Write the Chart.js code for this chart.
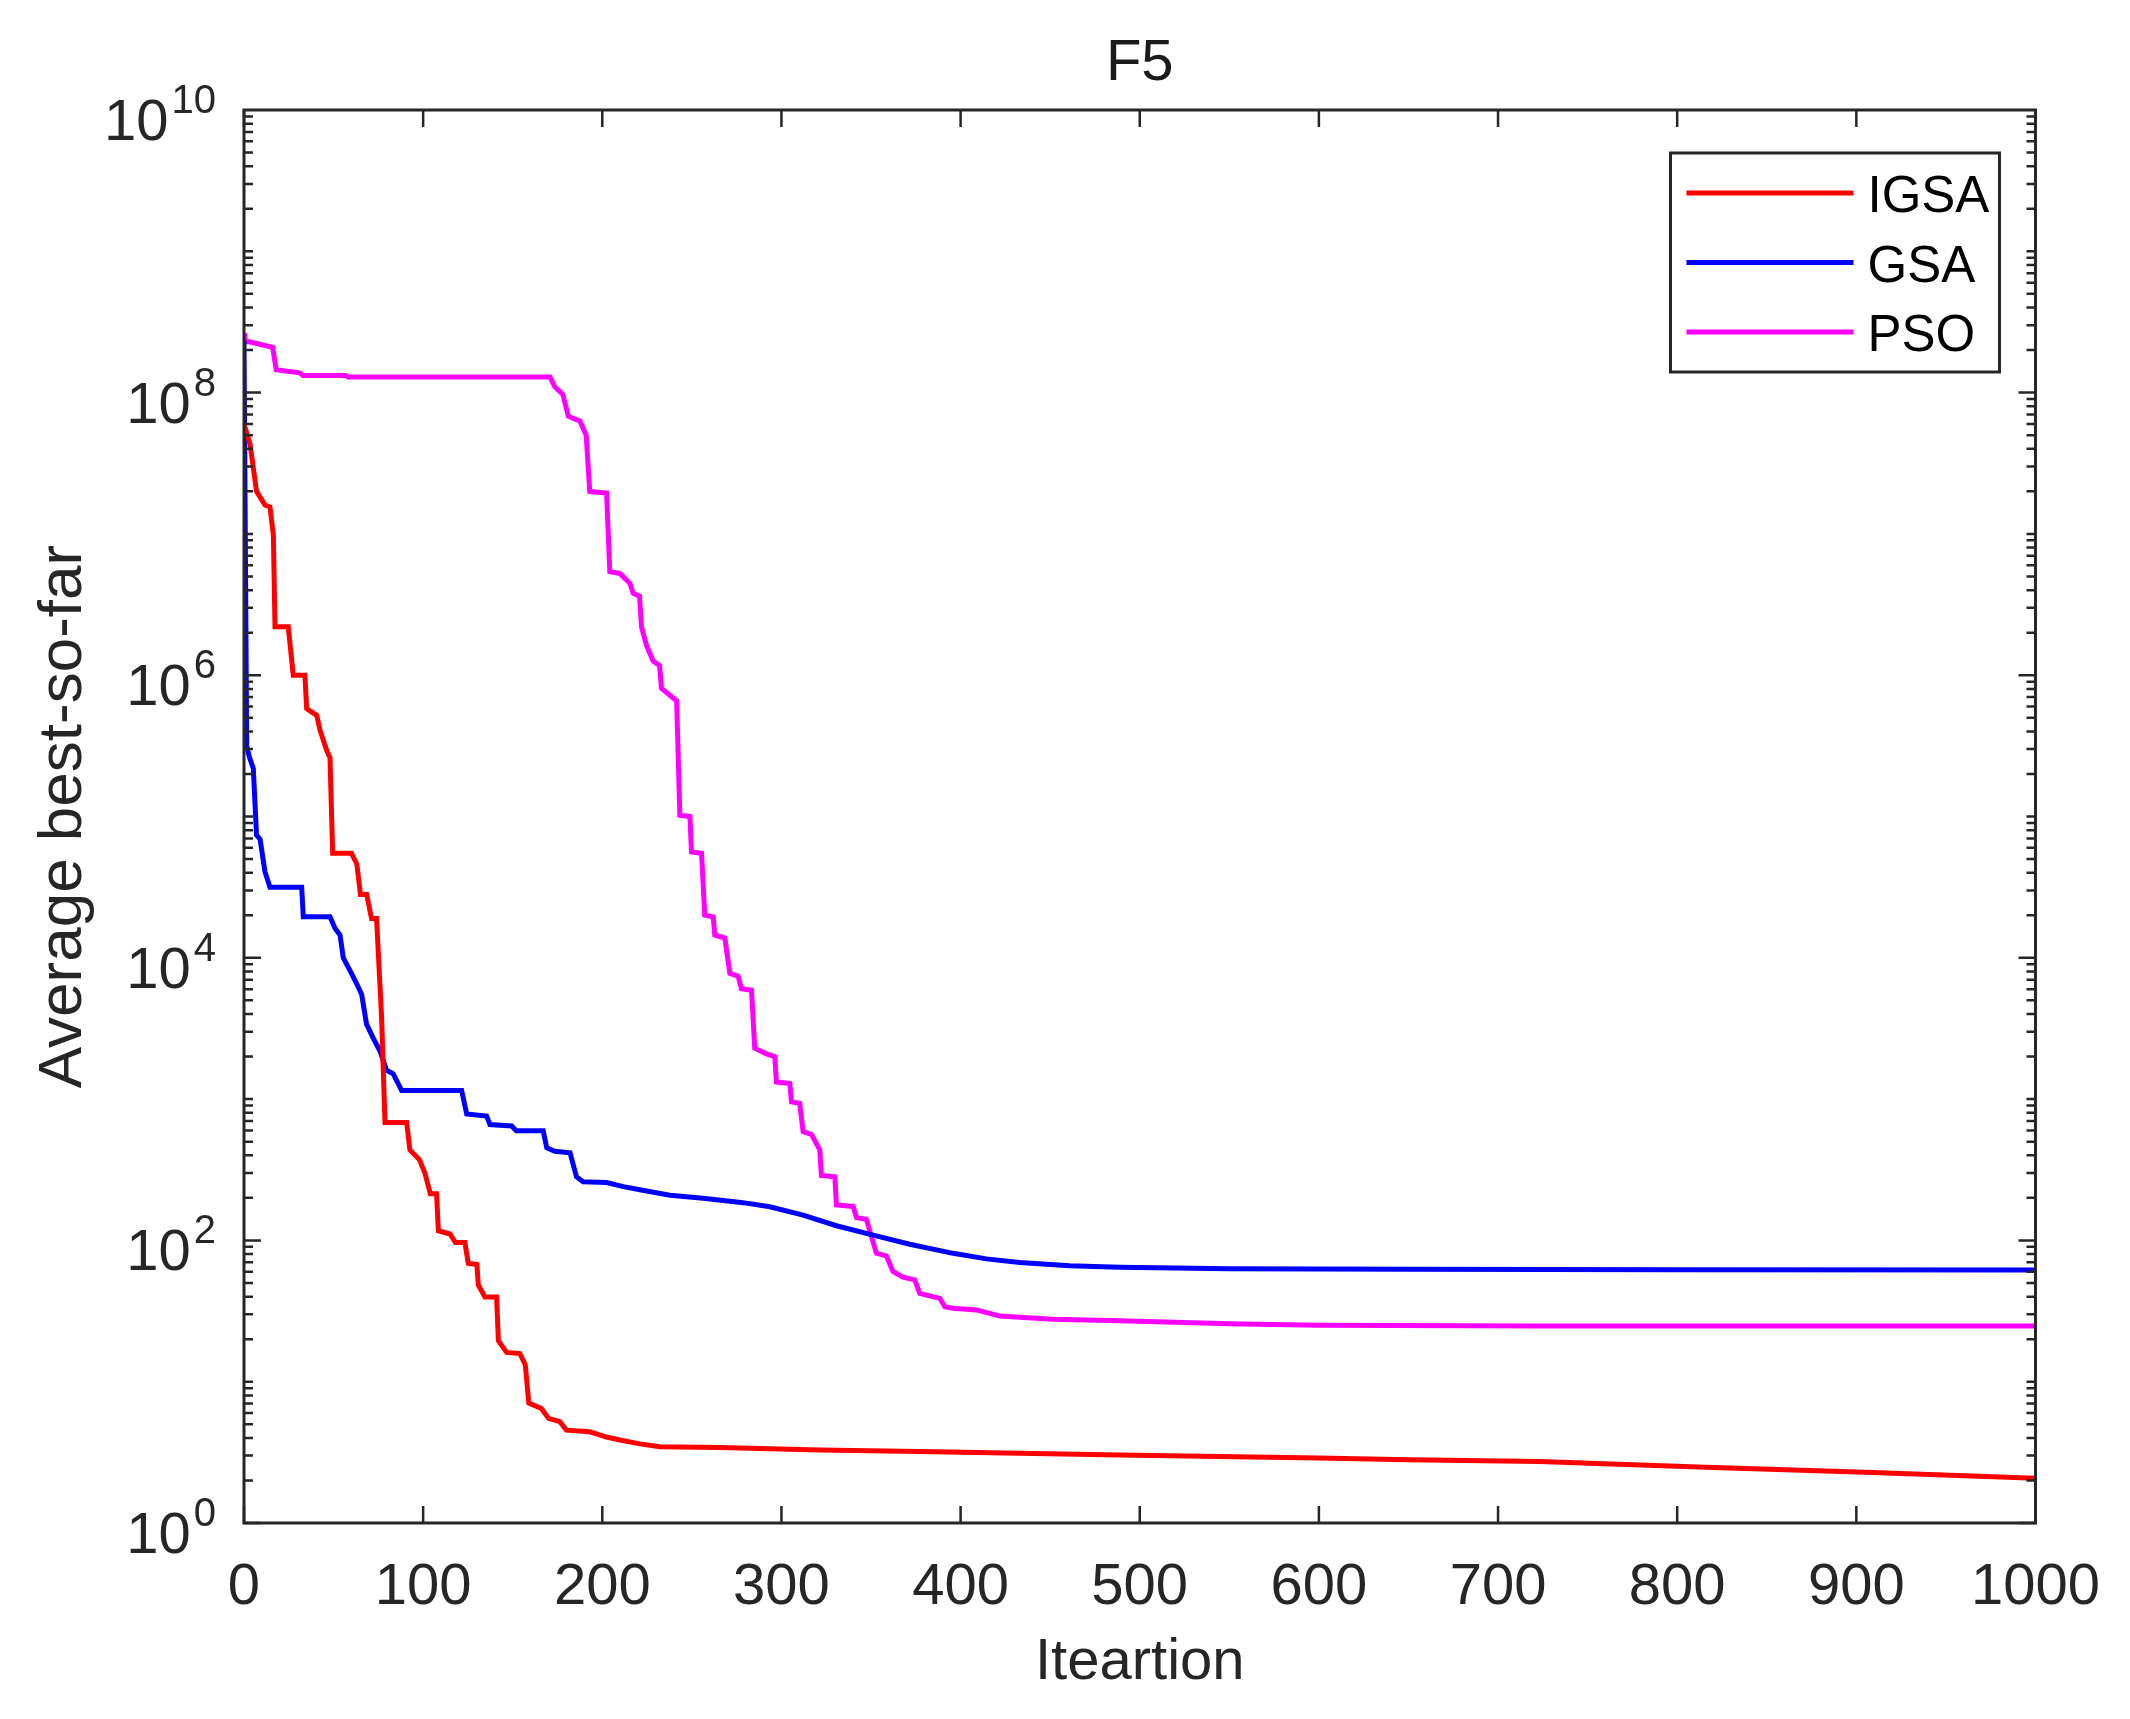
<!DOCTYPE html>
<html>
<head>
<meta charset="utf-8">
<script src="https://cdn.jsdelivr.net/npm/chart.js@4.4.1/dist/chart.umd.min.js"></script>
<style>
  html, body { margin: 0; padding: 0; background: #fff; }
  #wrap { width: 2130px; height: 1719px; }
</style>
</head>
<body>
<div id="wrap"><canvas id="f5-chart" width="2130" height="1719"></canvas></div>
<script>
// F5 convergence curves (iteration, average best-so-far)
const igsaIter = [0, 3.4, 7, 11.7, 14.5, 16.4, 17.3, 24.7, 27.5, 34, 35, 40.6, 42.4, 46.1, 48, 49.5, 60, 63, 65, 68.5,
  71.2, 74, 76.8, 78.7, 90.8, 92.6, 98, 101, 104, 107.5, 108.5, 115, 118, 123.3, 125.2, 130, 130.8, 134.5, 141, 142,
  146.6, 154, 157, 159, 166, 170, 176.3, 180, 193, 202.4, 209.8, 221, 232, 265.6, 321.4, 377.2, 433, 488.8, 600, 650,
  723, 816, 909, 1000];
const igsaVals = [6.0e7, 4.3e7, 2.0e7, 1.6e7, 1.55e7, 9.8e6, 2.2e6, 2.2e6, 1.0e6, 1.0e6, 5.8e5, 5.2e5, 4.1e5, 2.95e5, 2.6e5, 5.5e4, 5.5e4, 4.6e4, 2.8e4, 2.8e4,
  1.9e4, 1.9e4, 3800, 684, 684, 437, 372, 299, 214, 214, 117, 111, 96.6, 96.6, 69, 67.6, 48.4, 39.8, 39.8, 19.5,
  16.1, 15.8, 13.2, 7.05, 6.46, 5.5, 5.21, 4.54, 4.42, 4.06, 3.87, 3.63, 3.47, 3.42, 3.29, 3.2, 3.11, 3.03, 2.88, 2.8,
  2.72, 2.48, 2.28, 2.07];

const gsaIter = [0, 1.5, 3, 5.2, 7, 9, 11.7, 14.5, 32.2, 33.1, 48, 50.8, 53.6, 55.4, 60, 62.9, 65.7, 68.4, 72.2, 75.9,
  79.6, 83.3, 88, 121.5, 124.3, 135.4, 137.3, 149.4, 152, 167, 169, 173.5, 182, 185.6, 189.3, 202.4, 211.7, 221, 237.7, 256.3,
  278.6, 293.5, 312.1, 330.7, 351.2, 371.6, 395.8, 414.4, 433, 460.9, 488.8, 550, 650, 800, 1000];
const gsaVals = [2.34e8, 3.16e5, 2.63e5, 2.19e5, 7.4e4, 6.9e4, 4.07e4, 3.16e4, 3.16e4, 1.95e4, 1.95e4, 1.62e4, 1.45e4, 1.0e4, 7760, 6550, 5500, 3390, 2690, 2190,
  1600, 1510, 1150, 1150, 785, 759, 661, 646, 596, 596, 452, 427, 417, 282, 260, 257, 240, 228, 209, 199,
  185, 173, 151, 127, 109, 94, 81, 74, 69.7, 66.2, 64.6, 63.1, 62.4, 61.9, 61.8];

const psoIter = [0, 0.5, 3, 16, 18, 31, 33, 57, 58, 170.8, 173.5, 178, 181, 187.5, 191, 193, 202.4, 204.2, 209.8, 215.4,
  217.2, 220.8, 221.9, 224.7, 228.4, 232, 233, 239.6, 241.5, 243.3, 248.9, 249.8, 255.4, 257.2, 261.9, 262.8, 268.4, 271.2, 275.8, 277.7,
  283.3, 285.1, 291.6, 296.3, 297.2, 304.7, 305.6, 310.2, 312.1, 316.8, 321.4, 322.3, 329.8, 330.7, 340, 341.9, 347.4, 353, 358.6, 362.3,
  367.9, 374.4, 377.2, 388.4, 391.2, 395.8, 408.8, 421.8, 433, 451.6, 488.8, 550, 600, 723, 1000];
const psoVals = [2.63e8, 2.29e8, 2.29e8, 2.09e8, 1.45e8, 1.38e8, 1.32e8, 1.32e8, 1.29e8, 1.29e8, 1.10e8, 9.7e7, 6.8e7, 6.3e7, 5.0e7, 2.0e7, 1.95e7, 5.4e6, 5.25e6, 4.47e6,
  3.8e6, 3.63e6, 2.19e6, 1.62e6, 1.26e6, 1.17e6, 8.1e5, 6.9e5, 6.6e5, 1.02e5, 1.0e5, 5.6e4, 5.5e4, 2.0e4, 1.95e4, 1.45e4, 1.38e4, 7760, 7410, 6030,
  5890, 2290, 2090, 2000, 1320, 1290, 955, 933, 589, 562, 437, 288, 282, 178, 174, 145, 141, 81.3, 77.6, 60.3,
  55, 52.5, 42.2, 38.9, 33.9, 33.1, 32.2, 29.2, 28.6, 27.7, 27.0, 25.7, 25.1, 24.8, 24.8];

const seriesNames = ["IGSA", "GSA", "PSO"];
const chartTitle = "F5";
const xTickValues = [0, 100, 200, 300, 400, 500, 600, 700, 800, 900, 1000];
const yLabelExponents = [0, 2, 4, 6, 8, 10];

const FONT = '"Liberation Sans", Arial, Helvetica, sans-serif';
const axisColor = "#262626";

const toPoints = (xs, ys) => xs.map((x, i) => ({ x: x, y: ys[i] }));

// matlab-like box with inward ticks, superscript y labels, title over the axes and boxed legend
const matlabAxes = {
  id: "matlabAxes",
  afterDatasetsDraw(chart) {
    const { ctx, chartArea: a, scales: { x, y } } = chart;
    ctx.save();
    ctx.strokeStyle = axisColor;
    ctx.lineWidth = 2.5;
    ctx.beginPath();
    xTickValues.forEach(v => {
      const px = x.getPixelForValue(v);
      ctx.moveTo(px, a.bottom); ctx.lineTo(px, a.bottom - 17);
      ctx.moveTo(px, a.top); ctx.lineTo(px, a.top + 17);
    });
    for (let e = 0; e < 10; e++) {
      for (let m = 1; m < 10; m++) {
        const py = y.getPixelForValue(m * Math.pow(10, e));
        const len = (m === 1 && e % 2 === 0) ? 17 : 9;
        ctx.moveTo(a.left, py); ctx.lineTo(a.left + len, py);
        ctx.moveTo(a.right, py); ctx.lineTo(a.right - len, py);
      }
    }
    ctx.stroke();
    ctx.lineWidth = 3;
    ctx.strokeRect(a.left, a.top, a.right - a.left, a.bottom - a.top);

    // y tick labels 10^n
    ctx.fillStyle = axisColor;
    ctx.textBaseline = "alphabetic";
    ctx.textAlign = "right";
    yLabelExponents.forEach(e => {
      const py = y.getPixelForValue(Math.pow(10, e));
      const rightX = a.left - 28;
      ctx.font = "40px " + FONT;
      const sup = String(e);
      const supW = ctx.measureText(sup).width;
      ctx.fillText(sup, rightX, py + 3);
      ctx.font = "58px " + FONT;
      ctx.fillText("10", rightX - supW - 3, py + 30);
    });

    // title centred over the axes
    ctx.font = "58px " + FONT;
    ctx.fillStyle = "#1a1a1a";
    ctx.textAlign = "center";
    ctx.textBaseline = "middle";
    ctx.fillText(chartTitle, (a.left + a.right) / 2, 64);

    // legend
    const lw = 329, lh = 219;
    const lx = a.right - 36 - lw, ly = a.top + 43;
    ctx.fillStyle = "#fff";
    ctx.fillRect(lx, ly, lw, lh);
    ctx.lineWidth = 3;
    ctx.strokeStyle = axisColor;
    ctx.strokeRect(lx, ly, lw, lh);
    ctx.font = "51px " + FONT;
    ctx.textAlign = "left";
    ctx.textBaseline = "alphabetic";
    chart.data.datasets.forEach((ds, i) => {
      const rowY = ly + 40 + i * 69.5;
      ctx.strokeStyle = ds.borderColor;
      ctx.lineWidth = ds.borderWidth;
      ctx.beginPath();
      ctx.moveTo(lx + 16, rowY); ctx.lineTo(lx + 183, rowY);
      ctx.stroke();
      ctx.fillStyle = "#000";
      ctx.fillText(ds.label, lx + 197, rowY + 19);
    });
    ctx.restore();
  }
};

new Chart(document.getElementById("f5-chart").getContext("2d"), {
  type: "line",
  data: {
    datasets: [
      { label: seriesNames[0], data: toPoints(igsaIter, igsaVals), borderColor: "#ff0000", borderWidth: 5 },
      { label: seriesNames[1], data: toPoints(gsaIter, gsaVals), borderColor: "#0000ff", borderWidth: 5 },
      { label: seriesNames[2], data: toPoints(psoIter, psoVals), borderColor: "#ff00ff", borderWidth: 5 }
    ]
  },
  options: {
    responsive: false,
    animation: false,
    devicePixelRatio: 1,
    layout: { padding: { left: 0, right: 93, top: 110, bottom: 21 } },
    elements: { point: { radius: 0 }, line: { tension: 0, fill: false } },
    plugins: {
      legend: { display: false },
      tooltip: { enabled: false },
      title: { display: false }
    },
    scales: {
      x: {
        type: "linear",
        min: 0,
        max: 1000,
        grid: { display: false, drawTicks: false },
        border: { display: false },
        ticks: {
          stepSize: 100,
          autoSkip: false,
          maxRotation: 0,
          padding: 30,
          color: axisColor,
          font: { family: FONT, size: 58 },
          callback: v => String(v)
        },
        title: {
          display: true,
          text: "Iteartion",
          color: axisColor,
          font: { family: FONT, size: 58, lineHeight: 1.2 },
          padding: { top: 0, bottom: 0 }
        },
        afterFit(scale) { scale.height = 175; }
      },
      y: {
        type: "logarithmic",
        min: 1,
        max: 1e10,
        grid: { display: false, drawTicks: false },
        border: { display: false },
        ticks: { display: false },
        title: {
          display: true,
          text: "Average best-so-far",
          color: axisColor,
          font: { family: FONT, size: 62, lineHeight: 1.2 },
          padding: { top: 27, bottom: 0 }
        },
        afterFit(scale) { scale.width = 244; }
      }
    }
  },
  plugins: [matlabAxes]
});
</script>
</body>
</html>
